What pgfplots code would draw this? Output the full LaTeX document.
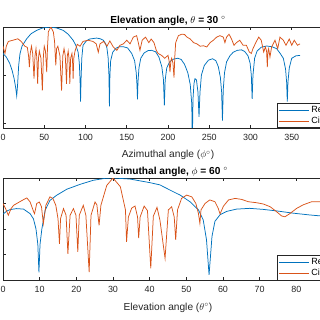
\documentclass[border=0pt]{standalone}
\usepackage{pgfplots}
\pgfplotsset{compat=1.18}
\usepackage{fontspec}
\setmainfont{Liberation Sans}

\definecolor{mblue}{RGB}{0,114,189}
\definecolor{morange}{RGB}{217,83,25}
\definecolor{axgray}{RGB}{38,38,38}

\pgfplotsset{
  patternaxis/.style={
    scale only axis,
    width=330bp,
    height=101bp,
    anchor=south west,
    axis line style={axgray, line width=0.5bp},
    every tick/.style={axgray, line width=0.5bp},
    tick align=inside,
    major tick length=3bp,
    /pgf/number format/assume math mode=true,
    tick label style={font=\fontsize{9}{10}\selectfont, text=axgray},
    xticklabel style={anchor=base, yshift=-12.5bp},
    yticklabels={},
    xlabel style={at={(axis description cs:0.5,0)}, anchor=base, yshift=-30bp,
                  font=\fontsize{10.2}{12}\selectfont, text=axgray},
    every axis title shift=0pt,
    title style={at={(axis description cs:0.5,1)}, anchor=base, yshift=3.6bp,
                 font=\fontsize{10.2}{12}\selectfont\bfseries},
    legend cell align=left,
    legend image code/.code={\draw[#1, line width=0.7bp] (0bp,0bp) -- (30bp,0bp);},
    legend style={at={(axis description cs:0.83,0)}, anchor=south west,
                  draw=axgray, line width=0.5bp, fill=white,
                  font=\fontsize{9}{10}\selectfont,
                  inner xsep=2bp, inner ysep=0.5bp, row sep=0pt,
                  nodes={inner sep=1.5bp, text height=6.5bp, text depth=2bp}},
  },
  rect/.style={mblue, line width=0.75bp},
  circ/.style={morange, line width=0.75bp},
}

\begin{document}
\begin{tikzpicture}
\begin{scope}
\clip (0bp,0bp) rectangle (320bp,320bp);

% ---------------- elevation cut, theta = 30 deg ----------------
\begin{axis}[patternaxis,
  at={(3bp,192bp)},
  xmin=0, xmax=400, ymin=-42, ymax=0,
  xtick={0,50,...,350}, ytick={-40,-20,0},
  title={Elevation angle, $\theta$ = 30 $^{\circ}$},
  xlabel={Azimuthal angle ($\phi^{\circ}$)},
]
\addplot[rect] coordinates {
(0,-11) (4,-12.5) (8,-15) (11,-18) (13.5,-21.5) (15.5,-25.5) (16.6,-28.6)
(17.6,-24.5) (19,-16) (20.6,-11.1) (23,-8) (28.7,-4.9) (34,-2.8) (40.8,-1.4)
(48,-0.4) (57,0) (65,-0.4) (73,-1.4) (79,-3) (85,-5.5) (88.5,-7.8) (91,-10.4)
(92.5,-15) (93.4,-22) (94,-31) (94.6,-22) (95.5,-13) (97,-7.6) (101,-5.8)
(105,-5) (113.5,-4.6) (118,-4.9) (121.6,-5.5) (124.5,-7) (126,-8.8)
(127.5,-13) (128.4,-20) (129,-33) (129.6,-20) (130.5,-14) (133,-10.5)
(137,-8.8) (141,-8.2) (145.8,-8.2) (151,-8.7) (156,-11) (159.5,-14)
(161.5,-19) (162.4,-24) (163,-30.1) (163.6,-23) (164.8,-17) (167,-13)
(171,-10.8) (176,-9.8) (180,-9.7) (185,-10.3) (189,-12.5) (192.5,-16.5)
(194.5,-22) (195.6,-32.6) (196.6,-22) (198.5,-17) (202,-14.5) (207,-13.3)
(212,-13) (216,-13.5) (220,-15.5) (224,-19) (227,-24) (228.8,-32)
(229.5,-48) (230.3,-30) (231.5,-23.5) (232.7,-21.5) (234.5,-22)
(236.3,-27) (237.6,-37.4) (238.8,-27) (240.5,-20) (244,-16) (249,-13.8)
(254,-13.2) (258,-14) (261,-16.5) (263.5,-21) (265,-27) (266,-38.9)
(267,-26) (268.5,-19) (271,-14.5) (275,-12) (279,-10.5) (284,-9.7)
(289,-9.5) (293,-10.2) (297,-12) (299.5,-15) (301,-20) (302,-29.9)
(303,-20) (305,-13) (308,-10) (313,-8.4) (319.6,-7.9) (326,-8.2)
(331.7,-9) (336,-11) (339.8,-13) (342.5,-17.5) (343.8,-23) (344.6,-31)
(345.4,-23) (347,-17) (350,-13) (355,-12) (360,-11.8)
};
\addlegendentry{Rectangular}
\addplot[circ] coordinates {
(0,-8) (2.4,-11) (4,-8) (6.5,-6) (12,-5.5) (18,-4.9) (22,-6) (26.5,-8)
(29.5,-8.5) (31,-12) (32,-16.7) (33,-11) (34.5,-8) (36,-11) (37.6,-21.5)
(38.8,-12) (40,-9) (41,-13) (42,-23.6) (43,-13) (44,-10) (46,-13)
(47.7,-26.4) (49,-12) (50,-8) (51.5,-10) (53,-18.8) (54,-8) (55,-2) (58,0)
(61,-2) (62.5,-6) (64,-16) (65,-9) (66.5,-8) (69,-12) (71,-26.4) (72.5,-12)
(74,-9) (75.5,-12) (77,-23.6) (78,-12) (79,-10) (80,-13) (81,-23.6)
(82,-13) (83.6,-11) (84.3,-14) (85,-21.5) (85.8,-13) (87.3,-10) (90,-7.2)
(93.3,-8) (97,-6) (103,-5.5) (109,-6) (113,-7) (115.5,-10.5) (117.6,-7)
(122,-6) (126,-8) (129.5,-5.8) (133.7,-8.3) (138,-9.7) (141.8,-7.6)
(146,-7) (150,-5.5) (154,-7) (158,-4.2) (162,-3.6) (164,-6.5) (166,-9.7)
(168.7,-5.5) (172.7,-4.2) (176.8,-6.5) (179.6,-5) (183,-6.5) (185.8,-9.7)
(188,-11) (192.2,-11.8) (196,-13) (200,-11.8) (201.3,-14) (202.4,-18.8)
(203.5,-14) (204.5,-13) (206,-15) (207.3,-21) (208.3,-12) (209.3,-6.5)
(212.6,-3.6) (216.6,-3) (220,-3.1) (223,-4.2) (227,-5) (231,-6.5) (235,-7)
(239,-8) (243,-7.8) (247,-8.3) (251,-6.5) (255,-5.5) (259,-4.2) (263,-3.6)
(267,-4.2) (269,-6.5) (271,-4.2) (274,-3) (277,-5) (280,-7.6) (283,-6.5)
(287,-5.5) (291,-7.6) (295,-7.6) (298.6,-10.4) (301,-11) (303,-9)
(306.4,-6.5) (310,-4.2) (313,-5.5) (316,-10.4) (318,-8.3) (319.5,-10)
(320.4,-16.7) (321.2,-10) (322,-9) (323.6,-12.5) (325.6,-8.3) (329.7,-5.5)
(333,-9) (335.7,-4.2) (339.8,-5.5) (343,-7.6) (347,-5) (350,-7.6)
(353,-5.5) (357,-7.6) (360,-7)
};
\addlegendentry{Circular}
\end{axis}

% ---------------- azimuthal cut, phi = 60 deg ----------------
\begin{axis}[patternaxis,
  at={(3bp,40bp)}, height=102bp,
  xmin=0, xmax=90, ymin=-40, ymax=0,
  xtick={0,10,...,80}, ytick={-40,-30,...,0},
  title={Azimuthal angle, $\phi$ = 60 $^{\circ}$},
  xlabel={Elevation angle ($\theta^{\circ}$)},
]
\addplot[rect] coordinates {
(0,-14.2) (1,-13) (1.9,-12.4) (3.7,-12) (5.6,-12.2) (7.4,-14) (8.3,-16)
(9,-20) (9.5,-26) (9.8,-37) (10.1,-26) (10.6,-20) (11.5,-12.6) (12.8,-8.8)
(14.6,-6.8) (17.4,-4.4) (21,-2.5) (24.6,-0.9) (28,-0.1) (30,0) (34.6,-0.4)
(40,-1.8) (42.8,-2.7) (45.5,-4.7) (48.3,-6.7) (51,-9.3) (53.3,-12.5)
(54.6,-16.4) (55.5,-24.2) (56.2,-38) (57,-22.9) (57.8,-17) (59.2,-14.4)
(61,-13.1) (63.7,-12.2) (67.3,-11.9) (70.9,-12.3) (74.6,-12.9)
(79.2,-13.8) (83.7,-14.5) (90,-15.3)
};
\addlegendentry{Rectangular}
\addplot[circ] coordinates {
(0,-10) (0.7,-12) (1.45,-14.6) (2.2,-12) (2.9,-10.7) (5.2,-8.8) (6.5,-7.8)
(7.4,-9.4) (8.3,-13) (8.6,-14) (9.2,-10) (9.9,-9.4) (10.5,-11.3) (11,-17.9)
(11.7,-10.7) (12.8,-7.4) (13.6,-8) (14.4,-10.7) (15,-15.9) (15.4,-25.8)
(15.7,-15.9) (16.5,-12) (17.2,-14.6) (17.7,-29.7) (18.3,-14.6) (19.2,-12)
(19.9,-14.6) (20.4,-29) (20.8,-14.6) (21.9,-10.7) (22.6,-14.6) (23.5,-36.9)
(24,-14.6) (25.1,-9.4) (25.6,-10.5) (26.2,-18.6) (26.7,-10.7) (28.3,-2.9)
(30,0) (32,-3.4) (33.4,-12.5) (33.7,-25) (34.2,-15.3) (35.1,-11.8) (36,-11)
(36.7,-15.3) (37,-23.6) (37.4,-15.3) (38.5,-11) (39.4,-12.8) (40.3,-35.4)
(41,-15) (42,-11.5) (42.8,-16.5) (44.2,-31.5) (45.1,-12.5) (46,-11.3)
(46.7,-15.3) (47.1,-24.3) (47.6,-12.5) (48.7,-8) (50.1,-6.7) (51.5,-7.4)
(52.6,-10) (53.3,-13.9) (53.7,-17.8) (54,-12.5) (55.1,-10) (56.4,-8.6)
(57.8,-9.3) (58.7,-11.9) (59.2,-14.1) (60.1,-11.1) (61.5,-8.6) (63.3,-8)
(65.1,-8.4) (66.9,-9.3) (69.2,-9.7) (71,-10.2) (72.9,-11.3) (74.6,-13.2)
(76,-14.9) (76.9,-15.2) (78.3,-13.9) (80.1,-11.9) (81.9,-10.5)
(84.2,-9.3) (86.4,-9.3) (90,-9.5)
};
\addlegendentry{Circular}
\end{axis}
\end{scope}

\pgfresetboundingbox
\path[use as bounding box] (0bp,0bp) rectangle (320bp,320bp);
\end{tikzpicture}
\end{document}
